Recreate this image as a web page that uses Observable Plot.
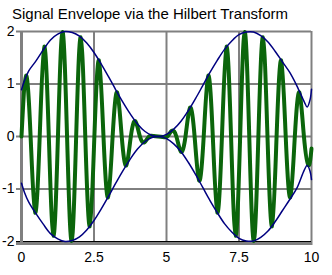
<!DOCTYPE html>
<html><head><meta charset="utf-8">
<script src="https://cdn.jsdelivr.net/npm/d3@7"></script>
<script src="https://cdn.jsdelivr.net/npm/@observablehq/plot@0.6"></script>
<style>
body{margin:0;background:#fff;font-family:"Liberation Sans",Arial,sans-serif;}
#title{height:24px;font-size:15px;line-height:15px;padding-left:12px;padding-top:6px;box-sizing:border-box;color:#000;white-space:nowrap;}
#chart svg{display:block;}
</style></head><body>
<div id="title">Signal Envelope via the Hilbert Transform</div>
<div id="chart"></div>
<script>
const titleText = "Signal Envelope via the Hilbert Transform";
const xTicks = [0, 2.5, 5, 7.5, 10];
const yTicks = [-2, -1, 0, 1, 2];

// signal samples (zero crossings and extrema)
const signalT = [0.000,0.157,0.314,0.471,0.628,0.785,0.942,1.100,1.257,1.414,1.571,1.728,1.885,2.042,2.199,2.356,2.513,2.670,2.827,2.985,3.142,3.299,3.456,3.613,3.770,3.927,4.084,4.241,4.398,4.555,4.712,4.869,5.027,5.184,5.341,5.498,5.655,5.812,5.969,6.126,6.283,6.440,6.597,6.754,6.912,7.069,7.226,7.383,7.540,7.697,7.854,8.011,8.168,8.325,8.482,8.639,8.796,8.954,9.111,9.268,9.425,9.582,9.739,9.896,10.000];
const signalV = [0,1.16,0,-1.45,0,1.71,0,-1.89,0,1.99,0,-1.99,0,1.89,0,-1.71,0,1.45,0,-1.16,0,0.84,0,-0.55,0,0.29,0,-0.11,0,0.01,0,-0.01,0,0.11,0,-0.29,0,0.55,0,-0.84,0,1.16,0,-1.45,0,1.71,0,-1.89,0,1.99,0,-1.99,0,1.89,0,-1.71,0,1.45,0,-1.16,0,0.84,0,-0.55,-0.23];

// envelope (Hilbert transform magnitude)
const envT = [0,0.1,0.25,0.5,0.75,1,1.25,1.5,1.75,2,2.25,2.5,2.75,3,3.25,3.5,3.75,4,4.25,4.5,4.75,5,5.25,5.5,5.75,6,6.25,6.5,6.75,7,7.25,7.5,7.75,8,8.25,8.5,8.75,9,9.25,9.5,9.75,9.85,9.95,10];
const envUpper = [0.89,1.06,1.25,1.44,1.65,1.84,1.95,2.00,1.98,1.91,1.78,1.60,1.38,1.14,0.89,0.65,0.43,0.24,0.10,0.02,0.00,0.04,0.14,0.29,0.49,0.72,0.97,1.22,1.45,1.66,1.82,1.94,1.99,1.99,1.92,1.80,1.62,1.42,1.22,0.96,0.66,0.56,0.70,0.90];
const envLower = [-0.89,-1.06,-1.25,-1.47,-1.67,-1.85,-1.95,-2.00,-1.98,-1.91,-1.78,-1.60,-1.38,-1.14,-0.89,-0.65,-0.43,-0.24,-0.10,-0.02,0.00,-0.04,-0.14,-0.29,-0.49,-0.72,-0.97,-1.22,-1.45,-1.66,-1.82,-1.94,-1.99,-1.99,-1.92,-1.80,-1.62,-1.41,-1.20,-0.98,-0.64,-0.55,-0.66,-0.82];

const signal = signalT.map((t, i) => ({t, v: signalV[i]}));
const env = envT.map((t, i) => ({t, up: envUpper[i], lo: envLower[i]}));

document.getElementById("title").textContent = titleText;

const gray = "#808080";
const plot = Plot.plot({
  width: 332, height: 251,
  marginLeft: 21, marginRight: 21, marginTop: 7, marginBottom: 34,
  style: {fontFamily: "'Liberation Sans', Arial, sans-serif", fontSize: "14px", background: "white", color: "black", overflow: "visible"},
  x: {domain: [0, 10], ticks: xTicks, tickFormat: d => String(d), tickSize: 0, tickPadding: 11, label: null},
  y: {domain: [-2, 2], ticks: yTicks, tickFormat: d => String(d), tickSize: 0, tickPadding: 7, label: null},
  marks: [
    Plot.ruleY([yTicks[1], yTicks[3]], {stroke: "black", strokeWidth: 1, insetLeft: -5}),
    Plot.ruleX([xTicks[1], xTicks[3]], {stroke: "black", strokeWidth: 1, insetBottom: -4}),
    Plot.ruleY([yTicks[2], yTicks[4]], {stroke: gray, strokeWidth: 2, insetLeft: -5}),
    Plot.ruleX([xTicks[2], xTicks[4]], {stroke: gray, strokeWidth: 2, insetBottom: -4}),
    Plot.ruleY([yTicks[0]], {stroke: "black", strokeWidth: 1, insetLeft: -5}),
    Plot.ruleY([yTicks[0]], {stroke: gray, strokeWidth: 3, dy: 2, insetLeft: -5}),
    Plot.ruleX([xTicks[0]], {stroke: gray, strokeWidth: 3, insetBottom: -4}),
    Plot.line(signal, {x: "t", y: "v", stroke: "#0b650b", strokeWidth: 4, curve: "natural"}),
    Plot.line(env, {x: "t", y: "up", stroke: "#000080", strokeWidth: 1.5, curve: "catmull-rom"}),
    Plot.line(env, {x: "t", y: "lo", stroke: "#000080", strokeWidth: 1.5, curve: "catmull-rom"})
  ]
});
document.getElementById("chart").appendChild(plot);
</script>
</body></html>
